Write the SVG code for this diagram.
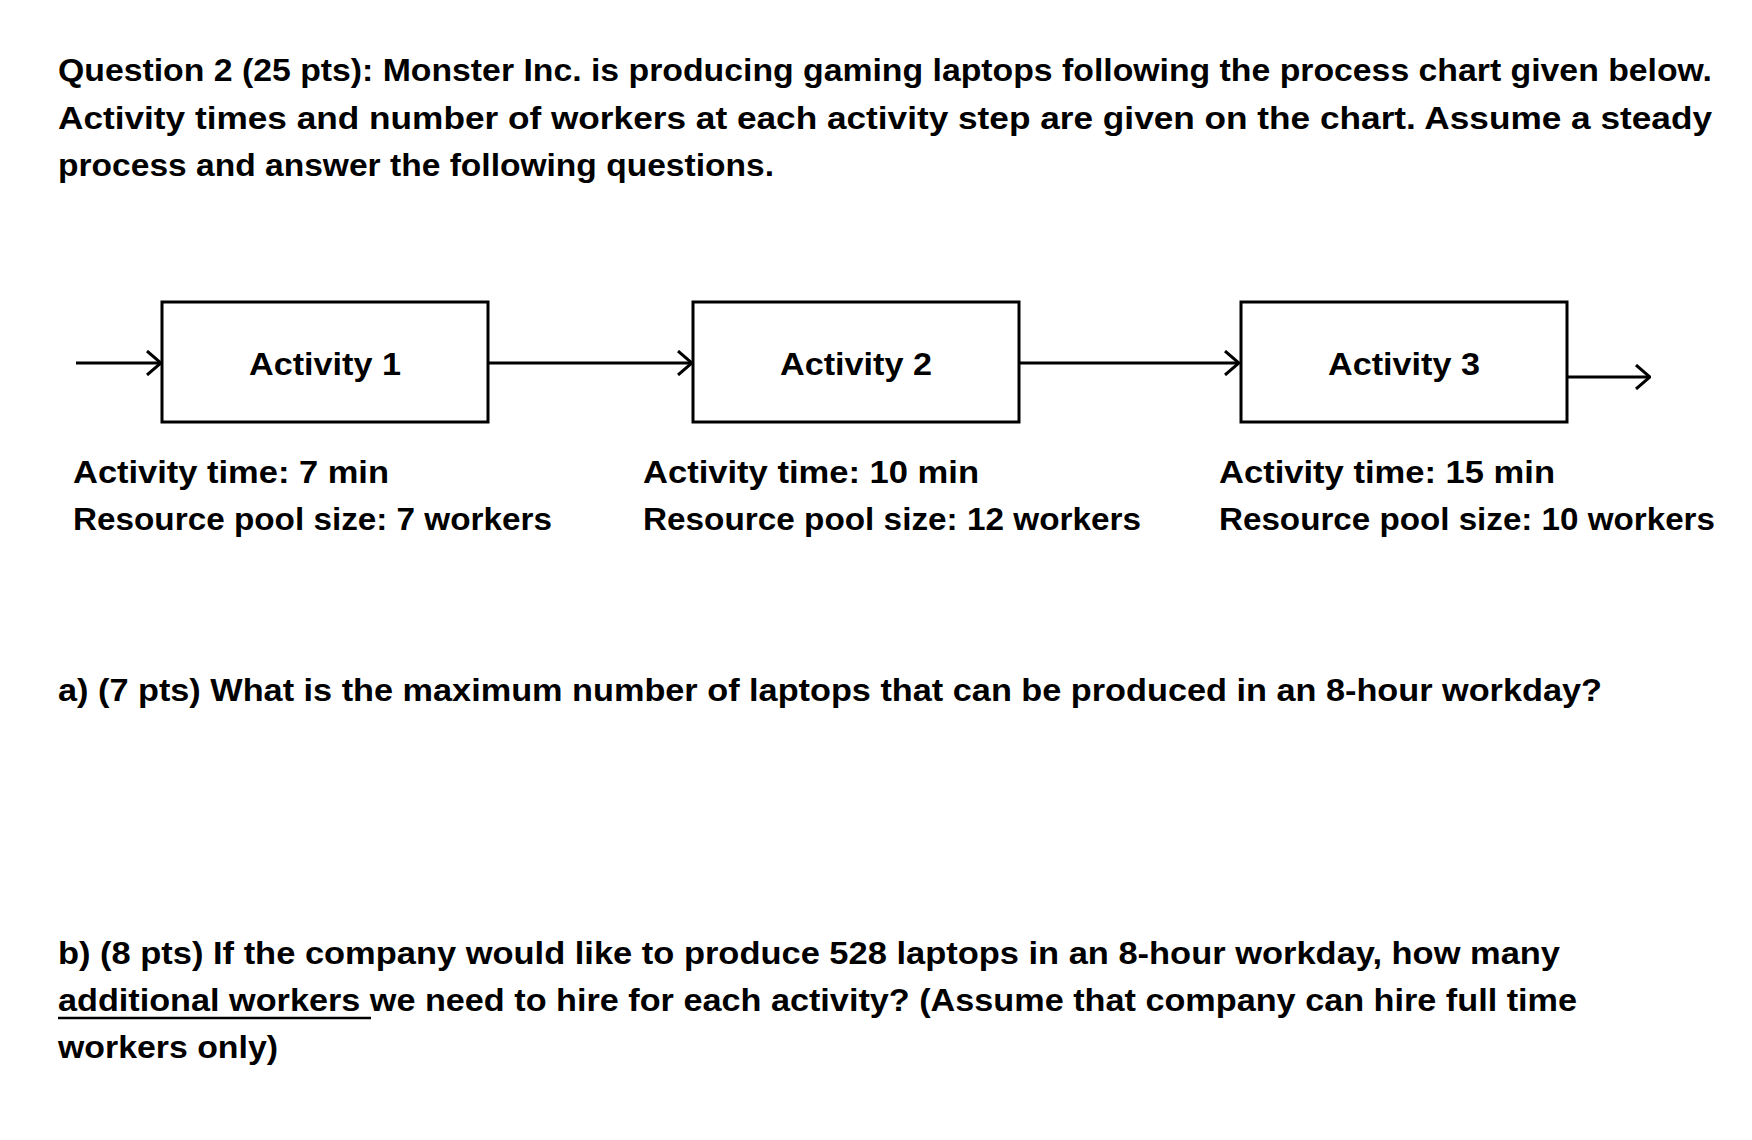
<svg xmlns="http://www.w3.org/2000/svg" width="1752" height="1140" viewBox="0 0 1752 1140">
<style>
text{font-family:"Liberation Sans",Arial,sans-serif;font-weight:bold;font-size:31px;fill:#000}
.box{fill:#fff;stroke:#000;stroke-width:3}
.ln{stroke:#000;stroke-width:3;fill:none}
</style>
<defs><marker id="ah" viewBox="0 0 16 26" refX="15" refY="13" markerWidth="16" markerHeight="26" markerUnits="userSpaceOnUse" orient="auto"><path d="M1,1 L15,13 L1,25" fill="none" stroke="#000" stroke-width="3"/></marker></defs>
<rect width="1752" height="1140" fill="#fff"/>
<g id="title">
<text x="58" y="81" textLength="1654" lengthAdjust="spacingAndGlyphs">Question 2 (25 pts): Monster Inc. is producing gaming laptops following the process chart given below.</text>
<text x="58" y="129" textLength="1654" lengthAdjust="spacingAndGlyphs">Activity times and number of workers at each activity step are given on the chart. Assume a steady</text>
<text x="58" y="176" textLength="716" lengthAdjust="spacingAndGlyphs">process and answer the following questions.</text>
</g>
<g id="connectors">
<line class="ln" x1="76" y1="363" x2="161" y2="363" marker-end="url(#ah)"/>
<line class="ln" x1="488" y1="363" x2="692" y2="363" marker-end="url(#ah)"/>
<line class="ln" x1="1019" y1="363" x2="1239" y2="363" marker-end="url(#ah)"/>
<line class="ln" x1="1567" y1="377" x2="1650" y2="377" marker-end="url(#ah)"/>
</g>
<g id="a1"><rect class="box" x="162" y="302" width="326" height="120"/><text x="325" y="375" text-anchor="middle" textLength="152" lengthAdjust="spacingAndGlyphs">Activity 1</text></g>
<g id="a2"><rect class="box" x="693" y="302" width="326" height="120"/><text x="856" y="375" text-anchor="middle" textLength="152" lengthAdjust="spacingAndGlyphs">Activity 2</text></g>
<g id="a3"><rect class="box" x="1241" y="302" width="326" height="120"/><text x="1404" y="375" text-anchor="middle" textLength="152" lengthAdjust="spacingAndGlyphs">Activity 3</text></g>
<g id="labels">
<text x="73" y="483" textLength="316" lengthAdjust="spacingAndGlyphs">Activity time: 7 min</text>
<text x="73" y="530" textLength="479" lengthAdjust="spacingAndGlyphs">Resource pool size: 7 workers</text>
<text x="643" y="483" textLength="336" lengthAdjust="spacingAndGlyphs">Activity time: 10 min</text>
<text x="643" y="530" textLength="498" lengthAdjust="spacingAndGlyphs">Resource pool size: 12 workers</text>
<text x="1219" y="483" textLength="336" lengthAdjust="spacingAndGlyphs">Activity time: 15 min</text>
<text x="1219" y="530" textLength="496" lengthAdjust="spacingAndGlyphs">Resource pool size: 10 workers</text>
</g>
<g id="questions">
<text x="58" y="701" textLength="1544" lengthAdjust="spacingAndGlyphs">a) (7 pts) What is the maximum number of laptops that can be produced in an 8-hour workday?</text>
<text x="58" y="964" textLength="1502" lengthAdjust="spacingAndGlyphs">b) (8 pts) If the company would like to produce 528 laptops in an 8-hour workday, how many</text>
<text x="58" y="1011" textLength="1519" lengthAdjust="spacingAndGlyphs">additional workers we need to hire for each activity? (Assume that company can hire full time</text>
<line x1="58" y1="1018" x2="371" y2="1018" stroke="#000" stroke-width="2.5"/>
<text x="58" y="1058" textLength="220" lengthAdjust="spacingAndGlyphs">workers only)</text>
</g>
</svg>
